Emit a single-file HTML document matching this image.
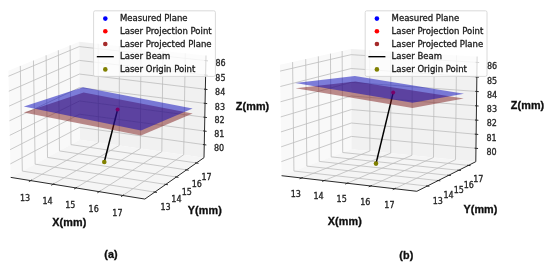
<!DOCTYPE html>
<html><head><meta charset="utf-8"><title>Figure</title>
<style>html,body{margin:0;padding:0;background:#fff}svg{display:block}</style></head>
<body>
<svg width="550" height="264" viewBox="0 0 550 264" font-family="'DejaVu Sans','Liberation Sans',sans-serif">
<defs><filter id="soft" x="0" y="0" width="550" height="264" filterUnits="userSpaceOnUse"><feGaussianBlur stdDeviation="0.35"/></filter></defs>
<g filter="url(#soft)">
<rect width="550" height="264" fill="#fff"/>
<polygon points="10.7,177.39 79.85,139.79 79.2,41.64 8.38,70.81" fill="#f9f9f9"/>
<polygon points="79.85,139.79 204,157.67 206.01,55.48 79.2,41.64" fill="#f1f1f1"/>
<polygon points="10.7,177.39 144.85,199.05 204,157.67 79.85,139.79" fill="#f5f5f5"/>
<g fill="none" stroke="#bcbcbc" stroke-width="0.8"><polyline points="30.7,180.63 98.44,142.48 98.17,43.71"/><polyline points="53.09,184.25 119.22,145.47 119.38,46.03"/><polyline points="75.9,187.94 140.35,148.52 140.96,48.39"/><polyline points="99.14,191.69 161.84,151.61 162.91,50.78"/><polyline points="122.81,195.5 183.7,154.75 185.25,53.22"/><polyline points="20.31,65.91 22.33,171.1 154.84,192.1"/><polyline points="33.46,60.51 35.15,164.15 165.83,184.44"/><polyline points="46.13,55.3 47.52,157.43 176.42,177.04"/><polyline points="58.35,50.26 59.46,150.93 186.62,169.89"/><polyline points="70.14,45.38 70.99,144.64 196.46,162.98"/><polyline points="10.4,163.87 79.76,127.3 204.26,144.68"/><polyline points="10.08,149.68 79.67,114.2 204.54,131.06"/><polyline points="9.77,135.32 79.58,100.96 204.81,117.28"/><polyline points="9.45,120.8 79.5,87.58 205.08,103.36"/><polyline points="9.13,106.11 79.41,74.06 205.36,89.28"/><polyline points="8.82,91.25 79.32,60.4 205.63,75.04"/><polyline points="8.5,76.21 79.23,46.59 205.91,60.65"/></g>
<polyline points="10.7,177.39 144.85,199.05 204,157.67 206.01,55.48" fill="none" stroke="#2a2a2a" stroke-width="1.0" stroke-linejoin="round"/>
<g stroke="#2a2a2a" stroke-width="1.0"><line x1="31.89" y1="179.96" x2="28.86" y2="181.65"/><line x1="54.27" y1="183.57" x2="51.28" y2="185.31"/><line x1="77.07" y1="187.23" x2="74.1" y2="189.03"/><line x1="100.29" y1="190.95" x2="97.36" y2="192.81"/><line x1="123.95" y1="194.74" x2="121.06" y2="196.66"/><line x1="153.49" y1="191.89" x2="156.91" y2="192.43"/><line x1="164.48" y1="184.23" x2="167.91" y2="184.76"/><line x1="175.07" y1="176.83" x2="178.5" y2="177.35"/><line x1="185.27" y1="169.69" x2="188.7" y2="170.2"/><line x1="195.1" y1="162.78" x2="198.53" y2="163.28"/><line x1="202.91" y1="144.5" x2="206.34" y2="144.97"/><line x1="203.18" y1="130.88" x2="206.62" y2="131.34"/><line x1="203.46" y1="117.11" x2="206.89" y2="117.56"/><line x1="203.73" y1="103.19" x2="207.17" y2="103.62"/><line x1="204" y1="89.12" x2="207.44" y2="89.53"/><line x1="204.28" y1="74.89" x2="207.72" y2="75.29"/><line x1="204.55" y1="60.5" x2="208" y2="60.88"/></g>
<g font-size="8.0" fill="#262626" stroke="#262626" stroke-width="0.3" text-anchor="middle"><text x="25.02" y="200.55">13</text><text x="47.48" y="204.32">14</text><text x="70.37" y="208.16">15</text><text x="93.68" y="212.06">16</text><text x="117.44" y="216.03">17</text><text x="165.6" y="210.23">13</text><text x="176.4" y="202.32">14</text><text x="186.81" y="194.68">15</text><text x="196.83" y="187.3">16</text><text x="206.5" y="180.17">17</text><text x="219" y="150.52">80</text><text x="219.3" y="136.72">81</text><text x="219.6" y="123.12">82</text><text x="219.9" y="109.52">83</text><text x="220.2" y="95.12">84</text><text x="220.4" y="80.52">85</text><text x="220.5" y="66.12">86</text></g>
<line x1="104.3" y1="162" x2="117.6" y2="109.5" stroke="#000" stroke-width="1.5"/>
<polygon points="23.8,112.5 83.6,92.4 192.6,113.4 141,135.6" fill="rgb(126,28,28)" fill-opacity="0.5"/>
<circle cx="117.6" cy="109.5" r="2.0" fill="#f00018"/>
<polygon points="23.8,106.6 83,87.3 192.6,108.6 141,130.6" fill="rgb(0,0,185)" fill-opacity="0.5"/>
<circle cx="104.3" cy="162" r="2.3" fill="#808000"/>
<rect x="93.6" y="10.8" width="121.8" height="65.6" rx="1.6" ry="1.6" fill="#fff" fill-opacity="0.8" stroke="#d0d0d0" stroke-width="0.8"/>
<circle cx="105.3" cy="18.6" r="2.3" fill="#0000ff"/>
<text x="120" y="21.26" font-size="8.5" fill="#1a1a1a" stroke="#1a1a1a" stroke-width="0.3">Measured Plane</text>
<circle cx="105.3" cy="31.3" r="2.3" fill="#ff0000"/>
<text x="120" y="33.96" font-size="8.5" fill="#1a1a1a" stroke="#1a1a1a" stroke-width="0.3">Laser Projection Point</text>
<circle cx="105.3" cy="44" r="2.3" fill="#a52a2a"/>
<text x="120" y="46.66" font-size="8.5" fill="#1a1a1a" stroke="#1a1a1a" stroke-width="0.3">Laser Projected Plane</text>
<line x1="96.8" y1="56.7" x2="113.8" y2="56.7" stroke="#000" stroke-width="1.35"/>
<text x="120" y="59.36" font-size="8.5" fill="#1a1a1a" stroke="#1a1a1a" stroke-width="0.3">Laser Beam</text>
<circle cx="105.3" cy="69.4" r="2.3" fill="#808000"/>
<text x="120" y="72.06" font-size="8.5" fill="#1a1a1a" stroke="#1a1a1a" stroke-width="0.3">Laser Origin Point</text>
<polygon points="281.57,175.7 351.48,149.17 351.06,49.05 280.03,64.87" fill="#f9f9f9"/>
<polygon points="351.48,149.17 475.79,161.7 477.12,56.51 351.06,49.05" fill="#f1f1f1"/>
<polygon points="281.57,175.7 416.83,191.29 475.79,161.7 351.48,149.17" fill="#f5f5f5"/>
<g fill="none" stroke="#bcbcbc" stroke-width="0.8"><polyline points="301.5,178 369.9,151.03 369.72,50.15"/><polyline points="324.09,180.61 390.72,153.13 390.83,51.4"/><polyline points="347.13,183.26 411.92,155.27 412.33,52.67"/><polyline points="370.64,185.97 433.51,157.44 434.23,53.97"/><polyline points="394.65,188.74 455.51,159.66 456.54,55.29"/><polyline points="292.6,62.07 293.93,171.03 427.31,186.05"/><polyline points="305.72,59.15 306.83,166.14 438.22,180.58"/><polyline points="318.34,56.34 319.25,161.43 448.69,175.33"/><polyline points="330.47,53.64 331.19,156.89 458.75,170.27"/><polyline points="342.15,51.03 342.7,152.51 468.42,165.41"/><polyline points="281.37,161.62 351.43,136.41 475.96,148.31"/><polyline points="281.16,146.83 351.37,123.03 476.14,134.27"/><polyline points="280.95,131.92 351.31,109.55 476.32,120.11"/><polyline points="280.75,116.9 351.25,95.98 476.5,105.85"/><polyline points="280.54,101.76 351.19,82.3 476.69,91.48"/><polyline points="280.33,86.49 351.14,68.53 476.87,77.01"/><polyline points="280.12,71.1 351.08,54.66 477.05,62.42"/></g>
<polyline points="281.57,175.7 416.83,191.29 475.79,161.7 477.12,56.51" fill="none" stroke="#2a2a2a" stroke-width="1.0" stroke-linejoin="round"/>
<g stroke="#2a2a2a" stroke-width="1.0"><line x1="302.78" y1="177.5" x2="299.55" y2="178.77"/><line x1="325.35" y1="180.09" x2="322.14" y2="181.41"/><line x1="348.38" y1="182.72" x2="345.2" y2="184.09"/><line x1="371.89" y1="185.41" x2="368.73" y2="186.84"/><line x1="395.88" y1="188.15" x2="392.75" y2="189.64"/><line x1="425.95" y1="185.9" x2="429.39" y2="186.28"/><line x1="436.86" y1="180.43" x2="440.31" y2="180.81"/><line x1="447.34" y1="175.18" x2="450.78" y2="175.55"/><line x1="457.4" y1="170.13" x2="460.84" y2="170.49"/><line x1="467.06" y1="165.27" x2="470.51" y2="165.63"/><line x1="474.6" y1="148.18" x2="478.05" y2="148.51"/><line x1="474.78" y1="134.14" x2="478.23" y2="134.45"/><line x1="474.96" y1="120" x2="478.42" y2="120.29"/><line x1="475.14" y1="105.75" x2="478.6" y2="106.02"/><line x1="475.32" y1="91.38" x2="478.78" y2="91.64"/><line x1="475.51" y1="76.91" x2="478.96" y2="77.15"/><line x1="475.69" y1="62.33" x2="479.15" y2="62.54"/></g>
<g font-size="8.0" fill="#262626" stroke="#262626" stroke-width="0.3" text-anchor="middle"><text x="295.85" y="196.64">13</text><text x="318.53" y="199.41">14</text><text x="341.68" y="202.23">15</text><text x="365.31" y="205.11">16</text><text x="389.44" y="208.04">17</text><text x="437.84" y="204.17">13</text><text x="448.57" y="198.41">14</text><text x="458.86" y="192.87">15</text><text x="468.74" y="187.55">16</text><text x="478.24" y="182.43">17</text><text x="491.5" y="154.92">80</text><text x="491.6" y="140.52">81</text><text x="491.8" y="126.32">82</text><text x="491.9" y="112.12">83</text><text x="492" y="98.02">84</text><text x="492" y="83.72">85</text><text x="492" y="69.12">86</text></g>
<line x1="376" y1="163.6" x2="393.2" y2="92.6" stroke="#000" stroke-width="1.5"/>
<polygon points="295.6,88.3 355.4,81.4 463.7,98.6 412.5,108" fill="rgb(126,28,28)" fill-opacity="0.5"/>
<circle cx="393.2" cy="92.6" r="2.0" fill="#f00018"/>
<polygon points="295.2,83 354.8,76.1 464,93.7 412.5,102.8" fill="rgb(0,0,185)" fill-opacity="0.5"/>
<circle cx="376" cy="163.6" r="2.3" fill="#808000"/>
<rect x="365.2" y="10.8" width="121.8" height="65.6" rx="1.6" ry="1.6" fill="#fff" fill-opacity="0.8" stroke="#d0d0d0" stroke-width="0.8"/>
<circle cx="376.9" cy="18.6" r="2.3" fill="#0000ff"/>
<text x="391.6" y="21.26" font-size="8.5" fill="#1a1a1a" stroke="#1a1a1a" stroke-width="0.3">Measured Plane</text>
<circle cx="376.9" cy="31.3" r="2.3" fill="#ff0000"/>
<text x="391.6" y="33.96" font-size="8.5" fill="#1a1a1a" stroke="#1a1a1a" stroke-width="0.3">Laser Projection Point</text>
<circle cx="376.9" cy="44" r="2.3" fill="#a52a2a"/>
<text x="391.6" y="46.66" font-size="8.5" fill="#1a1a1a" stroke="#1a1a1a" stroke-width="0.3">Laser Projected Plane</text>
<line x1="368.4" y1="56.7" x2="385.4" y2="56.7" stroke="#000" stroke-width="1.35"/>
<text x="391.6" y="59.36" font-size="8.5" fill="#1a1a1a" stroke="#1a1a1a" stroke-width="0.3">Laser Beam</text>
<circle cx="376.9" cy="69.4" r="2.3" fill="#808000"/>
<text x="391.6" y="72.06" font-size="8.5" fill="#1a1a1a" stroke="#1a1a1a" stroke-width="0.3">Laser Origin Point</text>
<text transform="translate(52.3 225.7) scale(1.08 1)" font-size="10" font-weight="bold" fill="#111" stroke="#111" stroke-width="0.3" text-anchor="start" letter-spacing="0.1" font-family="'Liberation Sans',Arial,sans-serif">X(mm)</text>
<text transform="translate(187.8 214.4) scale(1.08 1)" font-size="10" font-weight="bold" fill="#111" stroke="#111" stroke-width="0.3" text-anchor="start" letter-spacing="0.1" font-family="'Liberation Sans',Arial,sans-serif">Y(mm)</text>
<text transform="translate(235.8 110) scale(1.08 1)" font-size="10" font-weight="bold" fill="#111" stroke="#111" stroke-width="0.3" text-anchor="start" letter-spacing="0.1" font-family="'Liberation Sans',Arial,sans-serif">Z(mm)</text>
<text transform="translate(111 258.2) scale(1.08 1)" font-size="10" font-weight="bold" fill="#111" stroke="#111" stroke-width="0.3" text-anchor="middle" letter-spacing="0.1" font-family="'Liberation Sans',Arial,sans-serif">(a)</text>
<text transform="translate(327.8 224.9) scale(1.08 1)" font-size="10" font-weight="bold" fill="#111" stroke="#111" stroke-width="0.3" text-anchor="start" letter-spacing="0.1" font-family="'Liberation Sans',Arial,sans-serif">X(mm)</text>
<text transform="translate(463.4 212.6) scale(1.08 1)" font-size="10" font-weight="bold" fill="#111" stroke="#111" stroke-width="0.3" text-anchor="start" letter-spacing="0.1" font-family="'Liberation Sans',Arial,sans-serif">Y(mm)</text>
<text transform="translate(510.8 109) scale(1.08 1)" font-size="10" font-weight="bold" fill="#111" stroke="#111" stroke-width="0.3" text-anchor="start" letter-spacing="0.1" font-family="'Liberation Sans',Arial,sans-serif">Z(mm)</text>
<text transform="translate(406.3 258.5) scale(1.08 1)" font-size="10" font-weight="bold" fill="#111" stroke="#111" stroke-width="0.3" text-anchor="middle" letter-spacing="0.1" font-family="'Liberation Sans',Arial,sans-serif">(b)</text>
</g>
</svg>
</body></html>
